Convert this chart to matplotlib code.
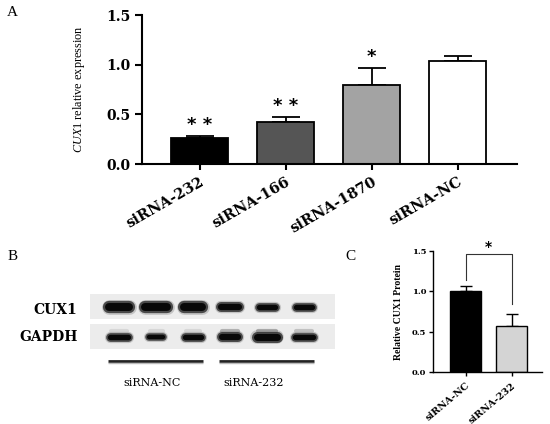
import matplotlib
matplotlib.use("Agg")
import matplotlib.pyplot as plt
import numpy as np

# ---- data ----
a_groups = ["siRNA-232", "siRNA-166", "siRNA-1870", "siRNA-NC"]
a_values = [0.265, 0.42, 0.80, 1.04]
a_errors = [0.015, 0.05, 0.17, 0.05]
a_colors = ["#000000", "#555555", "#a3a3a3", "#ffffff"]
a_stars = ["* *", "* *", "*", ""]

blot_rows = ["CUX1", "GAPDH"]
blot_groups = ["siRNA-NC", "siRNA-232"]
cux1_width = [0.80, 0.86, 0.78, 0.75, 0.72, 0.72]    # lane units
cux1_height = [9, 9, 9, 7, 6, 6]                     # px
gapdh_width = [0.75, 0.65, 0.70, 0.73, 0.80, 0.75]
gapdh_height = [6, 5, 6, 7, 8, 6]
gapdh_upper = [0.12, 0.12, 0.12, 0.35, 0.40, 0.25]   # faint upper band

c_groups = ["siRNA-NC", "siRNA-232"]
c_values = [1.0, 0.57]
c_errors = [0.07, 0.145]
c_colors = ["#000000", "#d4d4d4"]

W, H = 550, 424
fig = plt.figure(figsize=(W / 100, H / 100), dpi=100)

mpl_rc = plt.rcParams
mpl_rc["mathtext.fontset"] = "custom"
mpl_rc["mathtext.it"] = "Liberation Serif:italic"
mpl_rc["mathtext.rm"] = "Liberation Serif"

TICKFONT = dict(family="DejaVu Serif", weight="bold")


def px_axes(left, top, right, bottom):
    return fig.add_axes([left / W, 1 - bottom / H, (right - left) / W, (bottom - top) / H])


def style_axes(ax, lw, ytick_len, xtick_len):
    for s in ("top", "right"):
        ax.spines[s].set_visible(False)
    for s in ("left", "bottom"):
        ax.spines[s].set_linewidth(lw)
    ax.tick_params(axis="y", length=ytick_len, width=lw, direction="out")
    ax.tick_params(axis="x", length=xtick_len, width=lw, direction="out")


# ---- panel A ----
axA = px_axes(142, 15, 517, 164)
xa = np.arange(len(a_groups))
axA.bar(xa, a_values, width=0.66, color=a_colors, edgecolor="black", linewidth=1.3, zorder=2)
axA.errorbar(xa, a_values, yerr=[np.zeros(len(xa)), a_errors], fmt="none",
             ecolor="black", elinewidth=1.3, capsize=10, capthick=1.3, zorder=1)
for x, v, e, s in zip(xa, a_values, a_errors, a_stars):
    if s:
        axA.text(x, v + e + 0.02, s, ha="center", va="bottom", fontsize=13,
                 fontweight="bold", family="DejaVu Sans")
axA.set_xlim(-0.67, 3.69)
axA.set_ylim(0, 1.5)
axA.set_yticks([0, 0.5, 1.0, 1.5])
axA.set_yticklabels(["0.0", "0.5", "1.0", "1.5"], fontsize=10, **TICKFONT)
axA.set_xticks(xa)
axA.set_xticklabels(a_groups, rotation=30, ha="right", va="top",
                    rotation_mode="anchor", fontsize=10.5, **TICKFONT)
style_axes(axA, 1.5, 5, 4)
axA.tick_params(axis="y", pad=3)
axA.set_ylabel(r"$\mathit{CUX1}$ relative expression", fontsize=8.8,
               family="Liberation Serif", labelpad=14)
fig.text(12 / W, 1 - 12 / H, "A", fontsize=11, family="Liberation Serif", va="center", ha="center")

# ---- panel B (western blot) ----
axB = px_axes(85, 285, 340, 372)
axB.set_xlim(-0.92, 5.97)
axB.set_ylim(2.17, -0.73)
axB.axis("off")
lanes = np.arange(len(cux1_width))
px_per_row = 30.0
for r, row in enumerate(blot_rows):
    axB.add_patch(plt.Rectangle((-0.78, r - 12.5 / px_per_row), 6.62, 25 / px_per_row,
                                facecolor="#ececec", edgecolor="none", zorder=0))
    widths = cux1_width if r == 0 else gapdh_width
    heights = cux1_height if r == 0 else gapdh_height
    if r == 1:
        for ln, w, a in zip(lanes, gapdh_width, gapdh_upper):
            half = w / 2 - 0.15
            axB.plot([ln - half, ln + half], [r - 6 / px_per_row] * 2, color="#444444",
                     lw=3.0, alpha=a, solid_capstyle="round", zorder=1)
    for ln, w, h in zip(lanes, widths, heights):
        lw_pt = h * 0.85
        half = w / 2 - 0.14
        axB.plot([ln - half, ln + half], [r, r], color="#7a7a7a", lw=lw_pt + 3.0,
                 solid_capstyle="round", alpha=0.35, zorder=1)
        axB.plot([ln - half, ln + half], [r, r], color="#2a2a2a", lw=lw_pt + 1.2,
                 solid_capstyle="round", alpha=0.8, zorder=2)
        axB.plot([ln - half, ln + half], [r, r], color="#080808", lw=lw_pt * 0.75,
                 solid_capstyle="round", zorder=3)
group_lanes = [(0, 2), (3, 5)]
for (l0, l1) in group_lanes:
    axB.plot([l0 - 0.3, l1 + 0.27], [1.8, 1.8], color="#222222", lw=2.0,
             solid_capstyle="butt")
    axB.plot([l0 - 0.3, l1 + 0.27], [1.86, 1.86], color="#bbbbbb", lw=1.0,
             solid_capstyle="butt")
fig.text(77 / W, 1 - 310 / H, blot_rows[0], fontsize=10, ha="right", va="center", **TICKFONT)
fig.text(78 / W, 1 - 337 / H, blot_rows[1], fontsize=10, ha="right", va="center", **TICKFONT)
fig.text(152 / W, 1 - 383 / H, blot_groups[0], fontsize=8, family="DejaVu Serif",
         ha="center", va="center")
fig.text(254 / W, 1 - 383 / H, blot_groups[1], fontsize=8, family="DejaVu Serif",
         ha="center", va="center")
fig.text(13 / W, 1 - 257 / H, "B", fontsize=11, family="Liberation Serif", va="center", ha="center")
fig.text(350 / W, 1 - 257 / H, "C", fontsize=11, family="Liberation Serif", va="center", ha="center")

# ---- panel C ----
axC = px_axes(433, 251, 542, 372)
xc = np.arange(len(c_groups))
axC.bar(xc, c_values, width=0.67, color=c_colors, edgecolor="black", linewidth=1.0, zorder=2)
axC.errorbar(xc, c_values, yerr=[np.zeros(len(xc)), c_errors], fmt="none",
             ecolor="black", elinewidth=1.0, capsize=4.3, capthick=1.0, zorder=1)
axC.set_xlim(-0.71, 1.66)
axC.set_ylim(0, 1.5)
axC.set_yticks([0, 0.5, 1.0, 1.5])
axC.set_yticklabels(["0.0", "0.5", "1.0", "1.5"], fontsize=6, **TICKFONT)
axC.set_xticks(xc)
axC.set_xticklabels(c_groups, rotation=40, ha="right", va="top",
                    rotation_mode="anchor", fontsize=7, **TICKFONT)
style_axes(axC, 1.0, 3, 3)
axC.tick_params(axis="y", pad=2)
axC.set_ylabel("Relative CUX1 Protein", fontsize=7, family="Liberation Serif",
               fontweight="bold", labelpad=6)
# significance bracket
br_top = 1.46
axC.plot([xc[0], xc[0], xc[1], xc[1]],
         [c_values[0] + c_errors[0] + 0.07, br_top, br_top, c_values[1] + c_errors[1] + 0.125],
         color="#333333", lw=0.8, clip_on=False)
axC.text(xc.mean(), br_top + 0.0, "*", ha="center", va="bottom", fontsize=10,
         fontweight="bold", family="DejaVu Sans", clip_on=False)

fig.savefig("out.png", dpi=100)
